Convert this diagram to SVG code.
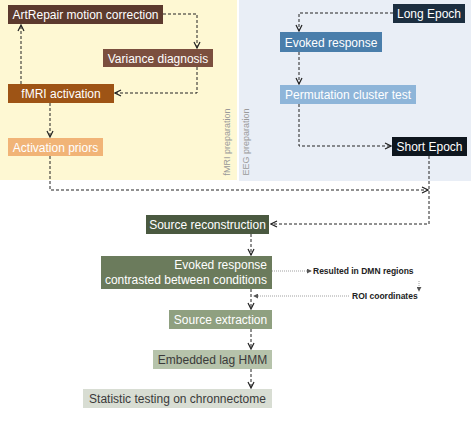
<svg xmlns="http://www.w3.org/2000/svg" width="474" height="426" viewBox="0 0 474 426">
<defs>
<style>
.t{font-family:"Liberation Sans",Arial,sans-serif;font-size:12px;fill:#fff;text-anchor:middle}
.d{fill:#3a3a3a}
.lbl{font-family:"Liberation Sans",Arial,sans-serif;font-size:9px;fill:#9a9a9a;text-anchor:middle}
.note{font-family:"Liberation Sans",Arial,sans-serif;font-size:8.5px;font-weight:bold;fill:#222}
.c{fill:none;stroke:#222;stroke-width:1;stroke-dasharray:3 2;marker-end:url(#a)}
.f{fill:none;stroke:#888;stroke-width:0.8;stroke-dasharray:1 1;marker-end:url(#b)}
</style>
<marker id="a" viewBox="0 0 8 8" refX="7" refY="4" markerWidth="8" markerHeight="8" markerUnits="userSpaceOnUse" orient="auto">
<path d="M1,1 L7,4 L1,7" fill="none" stroke="#222" stroke-width="1.2"/>
</marker>
<marker id="b" viewBox="0 0 6 6" refX="5" refY="3" markerWidth="5" markerHeight="5" markerUnits="userSpaceOnUse" orient="auto">
<path d="M0,0 L6,3 L0,6 Z" fill="#555"/>
</marker>
</defs>
<rect width="474" height="426" fill="#fff"/>
<g id="panels">
<rect x="0" y="0" width="237" height="180" fill="#fef8d3"/>
<rect x="239" y="0" width="232" height="181" fill="#e9eef6"/>
<text class="lbl" transform="translate(230,142) rotate(-90)">fMRI preparation</text>
<text class="lbl" transform="translate(249,142) rotate(-90)">EEG preparation</text>
</g>
<g id="connectors">
<path class="c" d="M163,14 H197 V48"/>
<path class="c" d="M197,67 V93 H115"/>
<path class="c" d="M21,84 V25"/>
<path class="c" d="M50,103 V137"/>
<path class="c" d="M50,156 V190 H428"/>
<path class="c" d="M429,156 V224 H271"/>
<path class="c" d="M393,13 H299 V31"/>
<path class="c" d="M299,52 V84"/>
<path class="c" d="M299,104 V146 H391"/>
<path class="c" d="M251,234 V255"/>
<path class="c" d="M251,289 V309"/>
<path class="c" d="M251,329 V349"/>
<path class="c" d="M251,369 V388"/>
<path class="f" d="M272,271 H311"/>
<path class="f" d="M419,281 V291"/>
<path class="f" d="M349,296 H254"/>
</g>
<g id="artrepair"><rect x="8" y="5" width="155" height="19" fill="#5c3a2e"/><text class="t" x="85.5" y="19">ArtRepair motion correction</text></g>
<g id="variance"><rect x="103" y="49" width="110" height="18" fill="#7b4f3e"/><text class="t" x="158" y="62.5">Variance diagnosis</text></g>
<g id="fmri"><rect x="8" y="84" width="106" height="19" fill="#9e5415"/><text class="t" x="61" y="98">fMRI activation</text></g>
<g id="priors"><rect x="8" y="138" width="95" height="18" fill="#f1b477"/><text class="t" x="55.5" y="151.5">Activation priors</text></g>
<g id="longepoch"><rect x="393" y="4" width="72" height="19" fill="#1c2e40"/><text class="t" x="429" y="18">Long Epoch</text></g>
<g id="evoked"><rect x="280" y="32" width="102" height="20" fill="#4a7eab"/><text class="t" x="331" y="46.5">Evoked response</text></g>
<g id="permutation"><rect x="280" y="85" width="136" height="19" fill="#8eb5d9"/><text class="t" x="348" y="99">Permutation cluster test</text></g>
<g id="shortepoch"><rect x="392" y="137" width="75" height="19" fill="#0e161e"/><text class="t" x="429.5" y="151">Short Epoch</text></g>
<g id="sourcerecon"><rect x="146" y="215" width="123" height="19" fill="#4a5940"/><text class="t" x="207.5" y="229">Source reconstruction</text></g>
<g id="contrast"><rect x="101" y="256" width="171" height="33" fill="#6b7b5c"/><text class="t" x="267" y="269" style="text-anchor:end">Evoked response</text><text class="t" x="267" y="284" style="text-anchor:end">contrasted between conditions</text></g>
<g id="dmn"><text class="note" x="313" y="274">Resulted in DMN regions</text></g>
<g id="roi"><text class="note" x="352" y="299">ROI coordinates</text></g>
<g id="extraction"><rect x="169" y="310" width="103" height="19" fill="#8fa080"/><text class="t" x="220.5" y="324">Source extraction</text></g>
<g id="hmm"><rect x="153" y="350" width="119" height="19" fill="#b6c3ab"/><text class="t d" x="212.5" y="364">Embedded lag HMM</text></g>
<g id="stat"><rect x="83" y="389" width="189" height="19" fill="#d8ddd3"/><text class="t d" x="177.5" y="403">Statistic testing on chronnectome</text></g>
</svg>
